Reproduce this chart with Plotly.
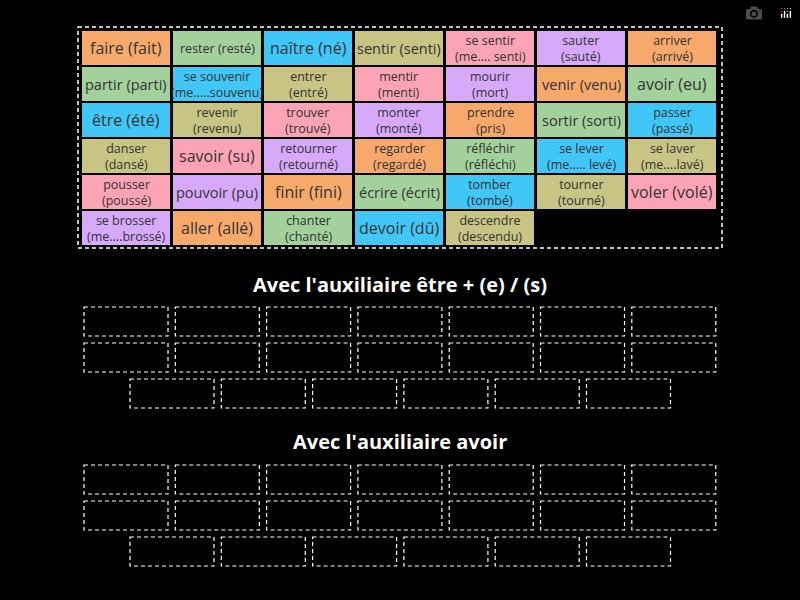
import plotly.graph_objects as go

# card texts in reading order (7 per row)
cards = [
    "faire (fait)", "rester (resté)", "naître (né)", "sentir (senti)", "se sentir<br>(me.... senti)", "sauter<br>(sauté)", "arriver<br>(arrivé)",
    "partir (parti)", "se souvenir<br>(me.....souvenu)", "entrer<br>(entré)", "mentir<br>(menti)", "mourir<br>(mort)", "venir (venu)", "avoir (eu)",
    "être (été)", "revenir<br>(revenu)", "trouver<br>(trouvé)", "monter<br>(monté)", "prendre<br>(pris)", "sortir (sorti)", "passer<br>(passé)",
    "danser<br>(dansé)", "savoir (su)", "retourner<br>(retourné)", "regarder<br>(regardé)", "réfléchir<br>(réfléchi)", "se lever<br>(me..... levé)", "se laver<br>(me....lavé)",
    "pousser<br>(poussé)", "pouvoir (pu)", "finir (fini)", "écrire (écrit)", "tomber<br>(tombé)", "tourner<br>(tourné)", "voler (volé)",
    "se brosser<br>(me....brossé)", "aller (allé)", "chanter<br>(chanté)", "devoir (dû)", "descendre<br>(descendu)",
]
card_colors = [
    "orange", "green", "blue", "olive", "pink", "purple", "orange",
    "green", "blue", "olive", "pink", "purple", "orange", "green",
    "blue", "olive", "pink", "purple", "orange", "green", "blue",
    "olive", "pink", "purple", "orange", "green", "blue", "olive",
    "pink", "purple", "orange", "green", "blue", "olive", "pink",
    "purple", "orange", "green", "blue", "olive",
]
palette = {"orange": "#f7a96c", "green": "#a2d19b", "blue": "#40c6f7",
           "olive": "#c8c484", "pink": "#fca4b6", "purple": "#d6a9fa"}

titles = ["Avec l'auxiliaire être + (e) / (s)", "Avec l'auxiliaire avoir"]
slots_per_row = [7, 7, 6]

medium = ("partir (parti)", "sentir (senti)", "écrire (écrit)", "sortir (sorti)",
          "venir (venu)", "pouvoir (pu)")

fig = go.Figure()
shapes, annots = [], []

col_x = [82 + 91 * i for i in range(7)]
cw, ch = 88, 34
shapes.append(dict(type="rect", x0=78, x1=722, y0=27, y1=248,
                   line=dict(color="white", width=1.5, dash="4px,3px")))
for i, (txt, c) in enumerate(zip(cards, card_colors)):
    r, k = divmod(i, 7)
    x0, y0 = col_x[k], 31 + 36 * r
    shapes.append(dict(type="rect", x0=x0, x1=x0 + cw, y0=y0, y1=y0 + ch,
                       fillcolor=palette[c], line=dict(width=0)))
    if "<br>" in txt:
        size = 12.5
    elif txt == "rester (resté)":
        size = 12.5
    elif txt in medium:
        size = 14.5
    else:
        size = 16
    annots.append(dict(x=x0 + cw / 2, y=y0 + ch / 2, text=txt, showarrow=False,
                       font=dict(size=size, color="#333333", family="Open Sans")))

for s, (title, ty) in enumerate(zip(titles, [284, 441])):
    annots.append(dict(x=400, y=ty, text="<b>" + title + "</b>", showarrow=False,
                       font=dict(size=20, color="white", family="Open Sans")))
    base = 307 if s == 0 else 465
    for r, n in enumerate(slots_per_row):
        start = 84 if n == 7 else 130
        for k in range(n):
            x0, y0 = start + 91.3 * k, base + 36 * r
            shapes.append(dict(type="rect", x0=x0, x1=x0 + 84, y0=y0, y1=y0 + 29,
                               line=dict(color="white", width=1.2, dash="4px,3px")))

fig.update_layout(
    width=800, height=600, margin=dict(l=0, r=0, t=0, b=0),
    paper_bgcolor="black", plot_bgcolor="black",
    xaxis=dict(range=[0, 800], visible=False, fixedrange=True),
    yaxis=dict(range=[600, 0], visible=False, fixedrange=True),
    shapes=shapes, annotations=annots, showlegend=False,
)
fig.write_html("out.html",
               post_script="document.body.style.margin='0';document.body.style.background='black';")
